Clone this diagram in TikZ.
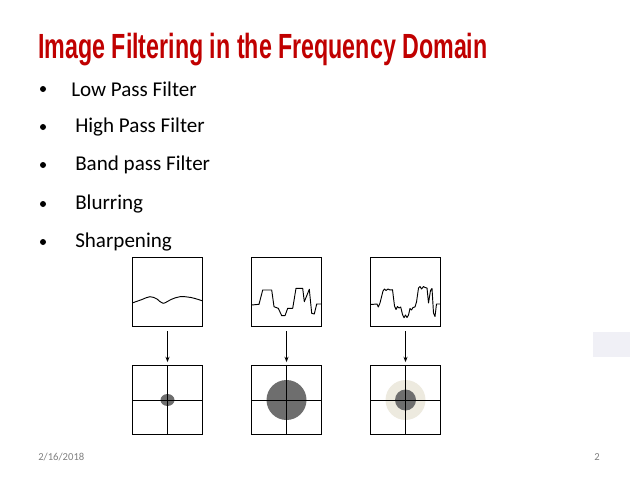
\documentclass[tikz,border=0pt]{standalone}
\usepackage{fontspec}
\setmainfont{Carlito}
\newfontfamily\titlefont{Liberation Sans}
\usetikzlibrary{arrows.meta}
\definecolor{titlered}{HTML}{C00000}
\definecolor{dgray}{HTML}{6E6E6E}
\definecolor{beige}{HTML}{EDEADF}
\definecolor{pale}{HTML}{F0F0F6}
\begin{document}
\begin{tikzpicture}[x=0.75pt,y=-0.75pt,
  frame/.style={draw=black,line width=0.8pt,minimum width=52pt,minimum height=52pt,inner sep=0},
  wave/.style={line width=0.7pt,line join=round},
  axis/.style={line width=0.7pt},
  arr/.style={-{Stealth[length=4pt,width=3pt]},line width=0.6pt},
  item/.style={anchor=west,inner sep=0,font=\fontsize{15.8}{18}\selectfont}]
\useasboundingbox (0,0) rectangle (638,478);
\node[anchor=north west,inner sep=0,text=titlered] (title) at (38,33)
  {\resizebox{337pt}{19pt}{\fontsize{21}{24}\titlefont\bfseries Image Filtering in the Frequency Domain}};
\foreach \y/\t/\x [count=\i] in {89/Low Pass Filter/71,127/High Pass Filter/75,165/Band pass Filter/75,204/Blurring/75,242/Sharpening/75}{
  \fill (43,\y) circle (3);
  \node[item] (t\i) at (\x,\y) {\t};
}
\node[frame] (s1) at (167.5,292) {};
\node[frame] (s2) at (286.5,292) {};
\node[frame] (s3) at (405.5,292) {};
\node[frame] (f1) at (167.5,400) {};
\node[frame] (f2) at (286.5,400) {};
\node[frame] (f3) at (405.5,400) {};
\fill[dgray] (167.5,400) ellipse (7 and 6);
\fill[dgray] (286.5,400) circle (20);
\fill[beige] (405.5,400) circle (20);
\fill[dgray] (405.5,400) circle (10.5);
\foreach \k in {1,2,3}{
  \draw[axis] (f\k.north) -- (f\k.south);
  \draw[axis] (f\k.west) -- (f\k.east);
  \draw[arr] ([yshift=-3pt]s\k.south) -- ([yshift=2pt]f\k.north);
}
\draw[wave] plot[smooth,tension=0.6] coordinates {(133,302.7) (142,299.5) (150,296.7) (157,299) (163,303.3) (171,299.5) (180,296.7) (191,297.5) (202,300.7)};
\draw[wave] (251.7,305) -- (259,304.3) -- (262.7,290) -- (271.7,290) -- (274,306.7) -- (278.3,308.3) -- (281.7,315.7) -- (285,315.7) -- (287.7,308.3) -- (292.7,308.3) -- (296,288.3) -- (302.7,288.3) -- (304.3,301.7) -- (309.3,289.3) -- (311.7,313.3) -- (314.3,314) -- (316.7,304) -- (321,304);
\draw[wave] (370.7,304.5) -- (377,304) -- (378.3,307) -- (380,303) -- (383,291) -- (384.5,289) -- (386,290.5) -- (388,289) -- (390,290) -- (392.5,289.7) -- (394.5,306) -- (396,309.5) -- (397.5,306.5) -- (399,308) -- (400.7,307) -- (402.5,314.5) -- (404,317.7) -- (405.5,315) -- (407,317.5) -- (408.5,315) -- (410,308.5) -- (411.5,310) -- (413,307.5) -- (415,307) -- (416.5,302) -- (418.5,288) -- (420,286.5) -- (421.5,289) -- (423.5,286.5) -- (425,287.5) -- (427,288) -- (428.5,303) -- (430.5,290.5) -- (432,288.5) -- (433.5,313) -- (435,316.5) -- (436.5,304) -- (440,304);
\fill[pale] (593,332) rectangle (630,357);
\node[anchor=west,inner sep=0,text=gray,font=\fontsize{8}{9}\selectfont] (date) at (38,457) {2/16/2018};
\node[anchor=center,inner sep=0,text=gray,font=\fontsize{8}{9}\selectfont] (pg) at (597,457) {2};
\end{tikzpicture}
\end{document}
